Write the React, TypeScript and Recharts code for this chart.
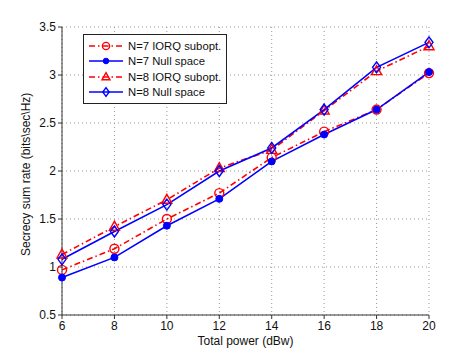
import { LineChart, Line, XAxis, YAxis, CartesianGrid } from "recharts";

const power = [6, 8, 10, 12, 14, 16, 18, 20];
const n7Iorq = [0.97, 1.19, 1.5, 1.77, 2.14, 2.41, 2.64, 3.02];
const n7Null = [0.89, 1.1, 1.43, 1.71, 2.1, 2.38, 2.64, 3.03];
const n8Iorq = [1.13, 1.42, 1.7, 2.03, 2.22, 2.63, 3.04, 3.3];
const n8Null = [1.08, 1.37, 1.65, 2.0, 2.24, 2.64, 3.08, 3.34];
const yTicks = [0.5, 1, 1.5, 2, 2.5, 3, 3.5];

const data = power.map((p, i) => ({
  power: p,
  n7Iorq: n7Iorq[i],
  n7Null: n7Null[i],
  n8Iorq: n8Iorq[i],
  n8Null: n8Null[i],
}));

const RED = "#ff0000";
const BLUE = "#0000ff";
const FONT = "'Liberation Sans', Arial, sans-serif";

type Kind = "circle" | "dot" | "triangle" | "diamond";

function Marker({ cx, cy, kind, color, s = 1 }: { cx: number; cy: number; kind: Kind; color: string; s?: number }) {
  if (cx == null || cy == null) return null;
  if (kind === "circle") return <circle cx={cx} cy={cy} r={4.5 * s} fill="none" stroke={color} strokeWidth={1.4} />;
  if (kind === "dot") return <circle cx={cx} cy={cy} r={3.5 * s} fill={color} stroke={color} strokeWidth={1} />;
  if (kind === "triangle") {
    const d = `M${cx},${cy - 5.5 * s} L${cx + 5 * s},${cy + 3.5 * s} L${cx - 5 * s},${cy + 3.5 * s} Z`;
    return <path d={d} fill="none" stroke={color} strokeWidth={1.4} />;
  }
  const d = `M${cx},${cy - 5.5 * s} L${cx + 4 * s},${cy} L${cx},${cy + 5.5 * s} L${cx - 4 * s},${cy} Z`;
  return <path d={d} fill="none" stroke={color} strokeWidth={1.4} />;
}

const series = [
  { key: "n7Iorq", name: "N=7 IORQ subopt.", color: RED, dash: "6 3 1.5 3", kind: "circle" as Kind },
  { key: "n7Null", name: "N=7 Null space", color: BLUE, dash: undefined, kind: "dot" as Kind },
  { key: "n8Iorq", name: "N=8 IORQ subopt.", color: RED, dash: "6 3 1.5 3", kind: "triangle" as Kind },
  { key: "n8Null", name: "N=8 Null space", color: BLUE, dash: undefined, kind: "diamond" as Kind },
];

function LegendBox() {
  return (
    <div
      style={{
        position: "absolute",
        left: 83,
        top: 34,
        background: "#fff",
        border: "1px solid #222",
        padding: "3px 5px 3px 4px",
        fontFamily: FONT,
        fontSize: 11.3,
        color: "#111",
      }}
    >
      {series.map((s) => (
        <div key={s.key} style={{ display: "flex", alignItems: "center", height: 15.5, whiteSpace: "nowrap" }}>
          <svg width={36} height={14} style={{ marginRight: 4 }}>
            <line x1={1} y1={7} x2={35} y2={7} stroke={s.color} strokeWidth={1.5} strokeDasharray={s.dash} />
            <Marker cx={18} cy={7} kind={s.kind} color={s.color} s={0.8} />
          </svg>
          <span>{s.name}</span>
        </div>
      ))}
    </div>
  );
}

export default function App() {
  return (
    <div style={{ position: "relative", width: 474, height: 355, background: "#fff" }}>
      <style>{`body{margin:0;}`}</style>
      <LineChart width={474} height={355} data={data} margin={{ top: 27, right: 45, bottom: 0, left: 0 }}>
        <CartesianGrid stroke="#999" strokeDasharray="1 3" />
        <XAxis
          dataKey="power"
          type="number"
          domain={[6, 20]}
          ticks={power}
          stroke="#333"
          tickSize={4}
          height={40}
          tick={{ fill: "#111", fontSize: 12, fontFamily: FONT }}
          label={{ value: "Total power (dBw)", position: "insideBottom", offset: 10, fill: "#111", fontSize: 12, fontFamily: FONT }}
        />
        <XAxis xAxisId="top" orientation="top" dataKey="power" type="number" domain={[6, 20]} ticks={power} stroke="#333" tick={false} height={0} />
        <YAxis
          type="number"
          domain={[0.5, 3.5]}
          ticks={yTicks}
          stroke="#333"
          tickSize={4}
          width={62}
          tickFormatter={(v: number) => String(v)}
          tick={{ fill: "#111", fontSize: 12, fontFamily: FONT }}
          label={{ value: "Secrecy sum rate (bits\\sec\\Hz)", angle: -90, position: "insideLeft", offset: 26, dy: 85, fill: "#111", fontSize: 12, fontFamily: FONT }}
        />
        <YAxis yAxisId="right" orientation="right" domain={[0.5, 3.5]} ticks={yTicks} stroke="#333" tick={false} width={0} />
        {series.map((s) => (
          <Line
            key={s.key}
            dataKey={s.key}
            name={s.name}
            stroke={s.color}
            strokeWidth={1.6}
            strokeDasharray={s.dash}
            isAnimationActive={false}
            dot={(p: any) => <Marker key={`${s.key}-${p.index}`} cx={p.cx} cy={p.cy} kind={s.kind} color={s.color} />}
            activeDot={false}
          />
        ))}
      </LineChart>
      <LegendBox />
    </div>
  );
}
